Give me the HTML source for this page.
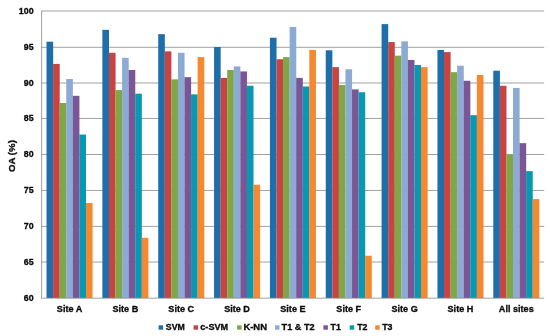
<!DOCTYPE html><html><head><meta charset="utf-8"><title>OA chart</title>
<style>html,body{margin:0;padding:0;background:#fff;overflow:hidden}svg{display:block}text{font-family:"Liberation Sans",sans-serif;font-weight:bold;fill:#0a0a0a;stroke:#0a0a0a;stroke-width:0.3}</style></head><body>
<svg width="550" height="336" viewBox="0 0 550 336">
<rect width="550" height="336" fill="#fff"/>
<text transform="translate(33.55,300.65) scale(1,1.06)" font-size="8.85" text-anchor="end">60</text>
<line x1="41.6" x2="544.2" y1="262.00" y2="262.00" stroke="#9c9c9c" stroke-width="0.95"/>
<text transform="translate(33.55,264.50) scale(1,1.06)" font-size="8.85" text-anchor="end">65</text>
<line x1="41.6" x2="544.2" y1="226.40" y2="226.40" stroke="#9c9c9c" stroke-width="0.95"/>
<text transform="translate(33.55,228.90) scale(1,1.06)" font-size="8.85" text-anchor="end">70</text>
<line x1="41.6" x2="544.2" y1="190.45" y2="190.45" stroke="#9c9c9c" stroke-width="0.95"/>
<text transform="translate(33.55,192.95) scale(1,1.06)" font-size="8.85" text-anchor="end">75</text>
<line x1="41.6" x2="544.2" y1="154.50" y2="154.50" stroke="#9c9c9c" stroke-width="0.95"/>
<text transform="translate(33.55,157.00) scale(1,1.06)" font-size="8.85" text-anchor="end">80</text>
<line x1="41.6" x2="544.2" y1="118.45" y2="118.45" stroke="#9c9c9c" stroke-width="0.95"/>
<text transform="translate(33.55,120.95) scale(1,1.06)" font-size="8.85" text-anchor="end">85</text>
<line x1="41.6" x2="544.2" y1="83.00" y2="83.00" stroke="#9c9c9c" stroke-width="0.95"/>
<text transform="translate(33.55,85.50) scale(1,1.06)" font-size="8.85" text-anchor="end">90</text>
<line x1="41.6" x2="544.2" y1="47.30" y2="47.30" stroke="#9c9c9c" stroke-width="0.95"/>
<text transform="translate(33.55,49.80) scale(1,1.06)" font-size="8.85" text-anchor="end">95</text>
<line x1="41.6" x2="544.2" y1="11.00" y2="11.00" stroke="#9c9c9c" stroke-width="0.95"/>
<text transform="translate(33.55,13.50) scale(1,1.06)" font-size="8.85" text-anchor="end">100</text>
<rect x="46.53" y="41.68" width="6.62" height="256.37" fill="#1E6EAA"/>
<rect x="53.10" y="63.91" width="6.62" height="234.14" fill="#C84442"/>
<rect x="59.67" y="102.99" width="6.62" height="195.06" fill="#7EA846"/>
<rect x="66.24" y="78.97" width="6.62" height="219.08" fill="#8CAAD4"/>
<rect x="72.81" y="95.82" width="6.62" height="202.23" fill="#7A5696"/>
<rect x="79.38" y="134.55" width="6.62" height="163.50" fill="#0898B2"/>
<rect x="85.95" y="203.03" width="6.62" height="95.02" fill="#F68830"/>
<text transform="translate(69.52,311.95) scale(1,1.09)" font-size="9.1" text-anchor="middle">Site A</text>
<rect x="102.37" y="29.85" width="6.62" height="268.20" fill="#1E6EAA"/>
<rect x="108.94" y="52.79" width="6.62" height="245.26" fill="#C84442"/>
<rect x="115.51" y="90.08" width="6.62" height="207.97" fill="#7EA846"/>
<rect x="122.08" y="57.81" width="6.62" height="240.24" fill="#8CAAD4"/>
<rect x="128.65" y="70.00" width="6.62" height="228.05" fill="#7A5696"/>
<rect x="135.22" y="93.67" width="6.62" height="204.38" fill="#0898B2"/>
<rect x="141.79" y="237.81" width="6.62" height="60.24" fill="#F68830"/>
<text transform="translate(125.37,311.95) scale(1,1.09)" font-size="9.1" text-anchor="middle">Site B</text>
<rect x="158.22" y="34.15" width="6.62" height="263.90" fill="#1E6EAA"/>
<rect x="164.79" y="51.36" width="6.62" height="246.69" fill="#C84442"/>
<rect x="171.36" y="79.33" width="6.62" height="218.72" fill="#7EA846"/>
<rect x="177.93" y="52.79" width="6.62" height="245.26" fill="#8CAAD4"/>
<rect x="184.50" y="77.18" width="6.62" height="220.87" fill="#7A5696"/>
<rect x="191.07" y="94.39" width="6.62" height="203.66" fill="#0898B2"/>
<rect x="197.64" y="57.10" width="6.62" height="240.95" fill="#F68830"/>
<text transform="translate(181.21,311.95) scale(1,1.09)" font-size="9.1" text-anchor="middle">Site C</text>
<rect x="214.06" y="47.06" width="6.62" height="250.99" fill="#1E6EAA"/>
<rect x="220.63" y="77.89" width="6.62" height="220.16" fill="#C84442"/>
<rect x="227.20" y="70.00" width="6.62" height="228.05" fill="#7EA846"/>
<rect x="233.77" y="66.42" width="6.62" height="231.63" fill="#8CAAD4"/>
<rect x="240.34" y="71.44" width="6.62" height="226.61" fill="#7A5696"/>
<rect x="246.91" y="85.78" width="6.62" height="212.27" fill="#0898B2"/>
<rect x="253.48" y="184.74" width="6.62" height="113.31" fill="#F68830"/>
<text transform="translate(237.06,311.95) scale(1,1.09)" font-size="9.1" text-anchor="middle">Site D</text>
<rect x="269.91" y="37.73" width="6.62" height="260.32" fill="#1E6EAA"/>
<rect x="276.48" y="59.25" width="6.62" height="238.80" fill="#C84442"/>
<rect x="283.05" y="57.10" width="6.62" height="240.95" fill="#7EA846"/>
<rect x="289.62" y="26.98" width="6.62" height="271.07" fill="#8CAAD4"/>
<rect x="296.18" y="77.89" width="6.62" height="220.16" fill="#7A5696"/>
<rect x="302.75" y="86.50" width="6.62" height="211.55" fill="#0898B2"/>
<rect x="309.32" y="49.92" width="6.62" height="248.13" fill="#F68830"/>
<text transform="translate(292.90,311.95) scale(1,1.09)" font-size="9.1" text-anchor="middle">Site E</text>
<rect x="325.75" y="50.28" width="6.62" height="247.77" fill="#1E6EAA"/>
<rect x="332.32" y="67.14" width="6.62" height="230.91" fill="#C84442"/>
<rect x="338.89" y="85.06" width="6.62" height="212.99" fill="#7EA846"/>
<rect x="345.46" y="69.29" width="6.62" height="228.76" fill="#8CAAD4"/>
<rect x="352.03" y="89.37" width="6.62" height="208.68" fill="#7A5696"/>
<rect x="358.60" y="92.24" width="6.62" height="205.81" fill="#0898B2"/>
<rect x="365.17" y="255.74" width="6.62" height="42.31" fill="#F68830"/>
<text transform="translate(348.74,311.95) scale(1,1.09)" font-size="9.1" text-anchor="middle">Site F</text>
<rect x="381.59" y="24.11" width="6.62" height="273.94" fill="#1E6EAA"/>
<rect x="388.16" y="42.04" width="6.62" height="256.01" fill="#C84442"/>
<rect x="394.73" y="55.66" width="6.62" height="242.39" fill="#7EA846"/>
<rect x="401.30" y="41.32" width="6.62" height="256.73" fill="#8CAAD4"/>
<rect x="407.87" y="59.96" width="6.62" height="238.09" fill="#7A5696"/>
<rect x="414.44" y="64.98" width="6.62" height="233.07" fill="#0898B2"/>
<rect x="421.01" y="67.14" width="6.62" height="230.91" fill="#F68830"/>
<text transform="translate(404.59,311.95) scale(1,1.09)" font-size="9.1" text-anchor="middle">Site G</text>
<rect x="437.44" y="49.92" width="6.62" height="248.13" fill="#1E6EAA"/>
<rect x="444.01" y="52.08" width="6.62" height="245.97" fill="#C84442"/>
<rect x="450.58" y="72.16" width="6.62" height="225.89" fill="#7EA846"/>
<rect x="457.15" y="65.70" width="6.62" height="232.35" fill="#8CAAD4"/>
<rect x="463.72" y="80.76" width="6.62" height="217.29" fill="#7A5696"/>
<rect x="470.29" y="115.18" width="6.62" height="182.87" fill="#0898B2"/>
<rect x="476.86" y="75.02" width="6.62" height="223.03" fill="#F68830"/>
<text transform="translate(460.43,311.95) scale(1,1.09)" font-size="9.1" text-anchor="middle">Site H</text>
<rect x="493.28" y="70.72" width="6.62" height="227.33" fill="#1E6EAA"/>
<rect x="499.85" y="85.78" width="6.62" height="212.27" fill="#C84442"/>
<rect x="506.42" y="154.62" width="6.62" height="143.43" fill="#7EA846"/>
<rect x="512.99" y="87.93" width="6.62" height="210.12" fill="#8CAAD4"/>
<rect x="519.56" y="143.15" width="6.62" height="154.90" fill="#7A5696"/>
<rect x="526.13" y="171.12" width="6.62" height="126.93" fill="#0898B2"/>
<rect x="532.70" y="199.09" width="6.62" height="98.96" fill="#F68830"/>
<text transform="translate(516.28,311.95) scale(1,1.09)" font-size="9.1" text-anchor="middle">All sites</text>
<line x1="41.6" x2="41.6" y1="10.5" y2="298.65" stroke="#909090" stroke-width="0.85"/>
<line x1="41.1" x2="544.2" y1="298.2" y2="298.2" stroke="#909090" stroke-width="0.85"/>
<text transform="translate(15.2,156.1) rotate(-90)" font-size="9.7" text-anchor="middle">OA (%)</text>
<rect x="158.6" y="325.3" width="4.5" height="4.4" fill="#1E6EAA"/>
<text transform="translate(165.8,330.45) scale(0.975,1.07)" font-size="9.0">SVM</text>
<rect x="193.6" y="325.3" width="4.5" height="4.4" fill="#C84442"/>
<text transform="translate(200.3,330.45) scale(1.01,1.07)" font-size="9.0">c-SVM</text>
<rect x="237.1" y="325.3" width="4.5" height="4.4" fill="#7EA846"/>
<text transform="translate(243.4,330.45) scale(1.05,1.07)" font-size="9.0">K-NN</text>
<rect x="275.0" y="325.3" width="4.5" height="4.4" fill="#8CAAD4"/>
<text transform="translate(281.6,330.45) scale(1.014,1.07)" font-size="9.0">T1 &amp; T2</text>
<rect x="323.4" y="325.3" width="4.5" height="4.4" fill="#7A5696"/>
<text transform="translate(330.6,330.45) scale(0.97,1.07)" font-size="9.0">T1</text>
<rect x="349.7" y="325.3" width="4.5" height="4.4" fill="#0898B2"/>
<text transform="translate(357.2,330.45) scale(0.98,1.07)" font-size="9.0">T2</text>
<rect x="375.2" y="325.3" width="4.5" height="4.4" fill="#F68830"/>
<text transform="translate(382.2,330.45) scale(0.98,1.07)" font-size="9.0">T3</text>
</svg></body></html>
